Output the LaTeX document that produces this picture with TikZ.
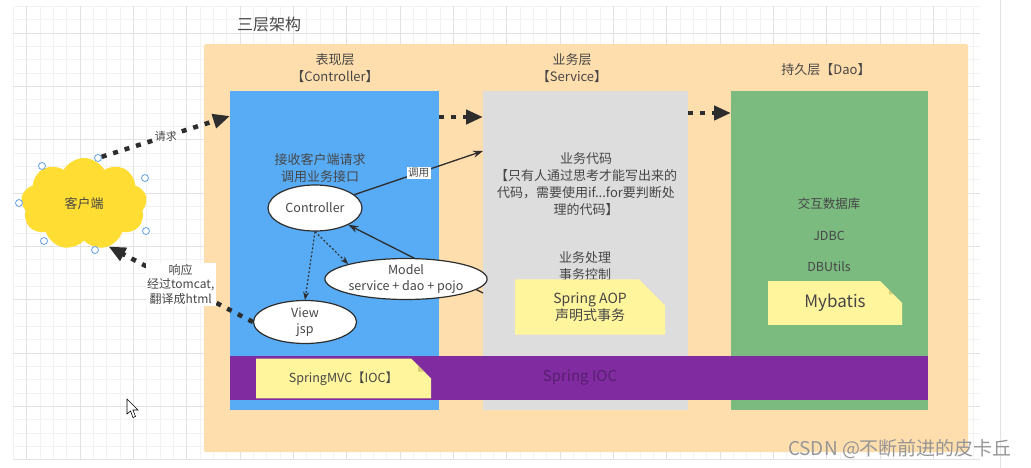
\documentclass[tikz,border=0pt]{standalone}
\usepackage{fontspec}
\setmainfont{Noto Sans CJK SC}
\usetikzlibrary{positioning, arrows.meta, shapes.geometric, shapes.symbols, shapes.misc}

\definecolor{orangebg}{RGB}{255,222,173}
\definecolor{ctrlblue}{RGB}{88,172,245}
\definecolor{svcgray}{RGB}{221,221,221}
\definecolor{daogreen}{RGB}{124,187,128}
\definecolor{iocpurple}{RGB}{128,44,160}
\definecolor{ioctext}{RGB}{88,30,112}
\definecolor{cloudyellow}{RGB}{255,221,51}
\definecolor{noteyellow}{RGB}{255,245,157}
\definecolor{foldcol}{RGB}{214,204,122}
\definecolor{textgray}{RGB}{70,70,70}
\definecolor{linedark}{RGB}{45,45,45}
\definecolor{handleblue}{RGB}{100,160,230}
\definecolor{gridminor}{RGB}{242,242,242}
\definecolor{gridmajor}{RGB}{226,226,226}
\definecolor{wmgray}{RGB}{150,150,150}

\begin{document}
\begin{tikzpicture}[x=1pt, y=-1pt]
    \tikzstyle{layer} = [rectangle, anchor=north west, inner sep=0pt];
    \tikzstyle{label} = [text=textgray, align=center, font=\fontsize{13}{17}\selectfont];
    \tikzstyle{mvc} = [draw=linedark, fill=white, ellipse, line width=1.2pt, inner sep=0pt, align=center, text=textgray, font=\fontsize{12.5}{16}\selectfont];
    \tikzstyle{note} = [chamfered rectangle, chamfered rectangle corners=north east, chamfered rectangle xsep=13pt, chamfered rectangle ysep=13pt, fill=noteyellow, inner sep=0pt, align=center, text=textgray,
        path picture={\fill[foldcol] ([xshift=-13pt]path picture bounding box.north east) -- ([xshift=-13pt, yshift=-13pt]path picture bounding box.north east) -- ([yshift=-13pt]path picture bounding box.north east) -- cycle;}];
    \tikzstyle{bigflow} = [line width=4.5pt, dash pattern=on 5pt off 7pt, draw=linedark, -{Triangle[length=17pt, width=14pt]}];
    \tikzstyle{smallflow} = [line width=1.1pt, dash pattern=on 2pt off 2pt, draw=linedark, -{Stealth[length=8pt, width=6pt]}];
    \tikzstyle{call} = [line width=1.3pt, draw=linedark, -{Stealth[length=10pt, width=7pt]}];
    \tikzstyle{tag} = [fill=white, inner sep=1.5pt, text=textgray, align=center];
    \tikzstyle{handle} = [circle, draw=handleblue, fill=white, line width=0.8pt, inner sep=0pt, minimum size=7pt];

    \useasboundingbox[fill=white] (0,0) rectangle (1031,468);

    % grid
    \foreach \i in {1,...,73} \draw[gridminor, line width=0.6pt] (13.333*\i,6) -- (13.333*\i,459);
    \foreach \j in {0,...,34} \draw[gridminor, line width=0.6pt] (13,6.333+13.333*\j) -- (980,6.333+13.333*\j);
    \foreach \i in {0,...,17} \draw[gridmajor, line width=0.7pt] (26.667+53.333*\i,6) -- (26.667+53.333*\i,459);
    \foreach \j in {0,...,8} \draw[gridmajor, line width=0.7pt] (13,33+53.333*\j) -- (980,33+53.333*\j);
    \draw[gridmajor, line width=0.7pt] (1000,0) -- (1000,468);

    \node[label, font=\fontsize{16}{18}\selectfont] at (269,24) (title) {三层架构};

    % layers
    \node[layer, fill=orangebg, rounded corners=2pt, minimum width=764pt, minimum height=408pt] at (204,44) (outer) {};
    \node[layer, fill=ctrlblue, minimum width=209pt, minimum height=319pt] at (230,91) (ctrlbox) {};
    \node[layer, fill=svcgray, minimum width=205pt, minimum height=319pt] at (483,91) (svcbox) {};
    \node[layer, fill=daogreen, minimum width=197pt, minimum height=319pt] at (731,91) (daobox) {};
    \node[layer, fill=iocpurple, minimum width=698pt, minimum height=44pt] at (230,356) (iocbar) {};

    \node[label] at (335,68.5) (ctrlhead) {表现层\\【Controller】};
    \node[label] at (572,68.5) (svchead) {业务层\\【Service】};
    \node[label] at (826,70) (daohead) {持久层【Dao】};

    % presentation layer
    \node[label] at (320,168) (ctrltext) {接收客户端请求\\调用业务接口};
    \node[mvc, minimum width=94pt, minimum height=46pt] at (315,208) (ctrl) {Controller};
    \draw[call] ([yshift=-202pt]svcbox.north west) -- (ctrl);
    \node[mvc, minimum width=138pt, minimum height=40pt] at (406,279) (model) {Model\\service + dao + pojo};
    \node[mvc, minimum width=103pt, minimum height=43pt] at (305,322) (view) {View\\jsp};

    \draw[call] (ctrl) -- node[tag, font=\fontsize{10.5}{12}\selectfont] {调用} ([yshift=-60pt]svcbox.north west);
    \draw[smallflow] (ctrl.south) -- (view.north);
    \draw[smallflow] (ctrl.south) -- (model.north west);

    % service layer
    \node[label] at (586,184) (svctext) {业务代码\\【只有人通过思考才能写出来的\\代码，需要使用if...for要判断处\\理的代码】};
    \node[label] at (585,266.5) (svcwork) {业务处理\\事务控制};
    \node[note, minimum width=150pt, minimum height=50pt, font=\fontsize{14}{17}\selectfont] at (590,307) (aopnote) {Spring AOP\\声明式事务};

    % dao layer
    \node[label, font=\fontsize{12.5}{15}\selectfont] at (829,204) (daotext) {交互数据库};
    \node[label, font=\fontsize{12.5}{15}\selectfont, below = 14pt of daotext] (jdbc) {JDBC};
    \node[label, font=\fontsize{12.5}{15}\selectfont, below = 14pt of jdbc] (dbutils) {DBUtils};
    \node[note, minimum width=134pt, minimum height=42pt, font=\fontsize{17}{20}\selectfont] at (835,303) (mybnote) {Mybatis};

    % ioc bar
    \node[note, minimum width=175pt, minimum height=35pt, font=\fontsize{12.5}{15}\selectfont] at (343.5,378.5) (mvcnote) {SpringMVC【IOC】};
    \node[text=ioctext, font=\fontsize{15}{17}\selectfont] at (580,378) (ioctag) {Spring IOC};

    % layer flow
    \draw[bigflow] ([yshift=-26pt]ctrlbox.north east) -- ([yshift=-26pt]svcbox.north west);
    \draw[bigflow] ([yshift=-22pt]svcbox.north east) -- ([yshift=-22pt]daobox.north west);

    % client
    \node[cloud, cloud puffs=9, cloud puff arc=120, aspect=1.4, fill=cloudyellow, minimum width=126pt, minimum height=92pt, text=textgray, font=\fontsize{13}{15}\selectfont] at (84,204) (client) {客户端};
    \foreach \a/\b [count=\k] in {42/166, 98/158, 145/178, 19/203, 146/231, 44/241, 95/250}
        \node[handle] at (\a,\b) (h\k) {};

    \draw[bigflow] (h2) -- node[tag, font=\fontsize{11}{13}\selectfont] {请求} ([yshift=-25pt]ctrlbox.north west);
    \draw[bigflow] (view.west) -- node[tag, font=\fontsize{12}{14.5}\selectfont] {响应\\经过tomcat,\\翻译成html} (client.-60);

    % cursor
    \draw[fill=white, line width=0.6pt] (127,399) -- (127,414) -- (130.5,411) -- (133,417.5) -- (135.5,416.5) -- (133,410) -- (138,410) -- cycle;

    \node[text=wmgray, font=\fontsize{19}{21}\selectfont] at (900,449) (mark) {CSDN @不断前进的皮卡丘};
\end{tikzpicture}
\end{document}
